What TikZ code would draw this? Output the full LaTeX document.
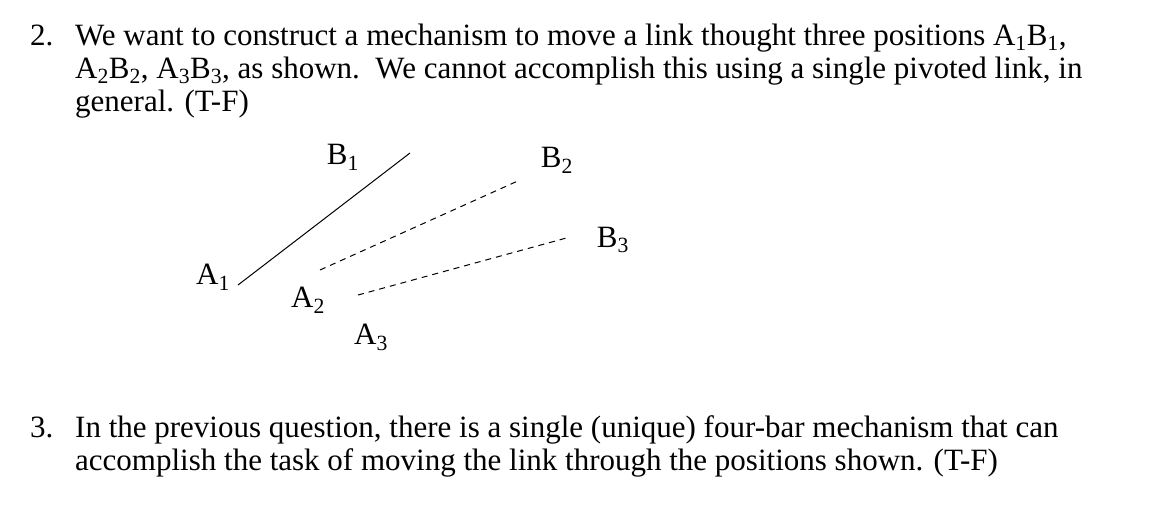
\documentclass[tikz,border=0pt]{standalone}
\usepackage{fontspec}
\setmainfont{Liberation Serif}
\begin{document}
\begin{tikzpicture}[x=1pt,y=-1pt,
  txt/.style={anchor=base west,inner sep=0pt,font=\fontsize{31}{33}\selectfont},
  lbl/.style={anchor=center,inner sep=0pt,font=\fontsize{31}{33}\selectfont},
  dash line/.style={dash pattern=on 6pt off 5pt,line width=1pt}]
\useasboundingbox (0,0) rectangle (1174,507);
\node[txt] (n2) at (30,45) {2.};
\node[txt] (l1) at (75,45) {We want to construct a mechanism to move a link thought three positions A\textsubscript{1}B\textsubscript{1},};
\node[txt] (l2) at (75,78) {A\textsubscript{2}B\textsubscript{2}, A\textsubscript{3}B\textsubscript{3}, as shown.\ \ We cannot accomplish this using a single pivoted link, in};
\node[txt] (l3) at (75,111) {general. (T-F)};
\coordinate (a1) at (238,285); \coordinate (b1) at (410,153);
\coordinate (a2) at (320,270); \coordinate (b2) at (520,180);
\coordinate (a3) at (358,295); \coordinate (b3) at (570,237);
\draw[line width=1pt] (a1) -- (b1);
\draw[dash line] (a2) -- (b2);
\draw[dash line] (a3) -- (b3);
\node[lbl] (B1) at (343,157) {B\textsubscript{1}};
\node[lbl] (B2) at (557,160) {B\textsubscript{2}};
\node[lbl] (B3) at (613,240) {B\textsubscript{3}};
\node[lbl] (A1) at (213,277) {A\textsubscript{1}};
\node[lbl] (A2) at (308,300) {A\textsubscript{2}};
\node[lbl] (A3) at (371,337) {A\textsubscript{3}};
\node[txt] (n3) at (30,437) {3.};
\node[txt] (m1) at (75,437) {In the previous question, there is a single (unique) four-bar mechanism that can};
\node[txt] (m2) at (75,470) {accomplish the task of moving the link through the positions shown. (T-F)};
\end{tikzpicture}
\end{document}
